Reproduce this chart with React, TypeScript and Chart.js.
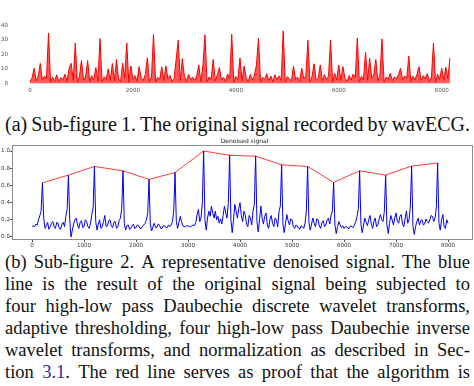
import React, { useEffect, useRef } from 'react';
import { Chart, registerables } from 'chart.js';

Chart.register(...registerables);

// ---------- Sub-figure 1: original signal ----------
const rawStep = 40;
const rawXTicks = [0, 2000, 4000, 6000, 8000];
const rawXTickLabels = ['0', '2000', '4000', '6000', '8000'];
const rawYTicks = [0, 10, 20, 30, 40];
const rawYTickLabels = ['0', '10', '20', '30', '40'];
const rawSignal = [
  1.2, 3.6, 10.3, 1.5, 5.0, 13.7, 2.2, 4.8, 3.0, 34.7,
  0.7, 4.1, 1.6, 5.8, 1.1, 3.9, 2.4, 6.2, 1.3, 10.3,
  13.7, 1.8, 27.8, 0.8, 4.6, 15.7, 2.0, 4.3, 15.7, 1.2,
  5.1, 2.3, 10.8, 1.4, 30.9, 0.9, 4.5, 2.6, 9.9, 1.7,
  13.7, 1.5, 16.4, 3.2, 1.0, 13.8, 3.8, 27.8, 0.8, 11.9,
  2.7, 5.2, 1.3, 11.4, 3.5, 1.9, 5.9, 17.5, 1.1, 4.4,
  33.9, 0.8, 4.0, 2.4, 11.4, 1.6, 11.9, 3.0, 5.3, 1.3,
  3.3, 16.4, 29.7, 1.7, 17.0, 4.7, 1.4, 6.1, 2.5, 4.2,
  2.0, 5.3, 12.6, 1.1, 11.9, 33.5, 0.9, 4.3, 2.8, 16.4,
  1.6, 5.7, 10.8, 2.2, 3.9, 1.2, 6.4, 3.0, 33.9, 0.7,
  4.6, 2.6, 17.5, 1.5, 11.9, 3.6, 1.0, 6.0, 2.3, 5.5,
  12.6, 30.9, 0.9, 4.0, 2.7, 6.6, 1.6, 4.9, 1.1, 5.8,
  2.4, 5.0, 1.8, 36.2, 0.8, 4.5, 3.1, 1.5, 11.9, 2.6,
  4.2, 1.3, 10.3, 2.9, 5.1, 29.7, 1.0, 4.3, 13.4, 2.1,
  3.4, 12.6, 1.6, 5.9, 2.6, 4.8, 29.7, 0.8, 6.8, 2.4,
  12.6, 1.8, 11.4, 3.4, 1.3, 5.3, 2.2, 6.4, 3.8, 31.3,
  0.9, 4.7, 2.5, 21.4, 1.9, 17.2, 3.5, 5.6, 16.4, 1.5,
  5.4, 30.6, 1.0, 4.2, 2.6, 6.7, 1.8, 4.4, 2.9, 6.0,
  10.3, 2.1, 5.0, 3.2, 18.7, 1.2, 4.8, 2.3, 6.2, 11.4,
  1.8, 5.2, 3.0, 6.6, 1.4, 4.3, 27.8, 0.9, 6.1, 2.7,
  10.3, 2.0, 11.0, 3.3, 17.5,
];

// ---------- Sub-figure 2: denoised signal ----------
const denoisedTitle = 'Denoised signal';
const denoisedStep = 25;
const denoisedXTicks = [0, 1000, 2000, 3000, 4000, 5000, 6000, 7000, 8000];
const denoisedYTicks = [0, 0.2, 0.4, 0.6, 0.8, 1.0];
const denoisedSignal = [
  // 0 - 975
  0.12, 0.13, 0.12, 0.15, 0.14, 0.20, 0.25, 0.30, 0.63, 0.22,
  0.10, 0.13, 0.17, 0.09, 0.12, 0.16, 0.18, 0.12, 0.10, 0.17,
  0.16, 0.10, 0.09, 0.15, 0.17, 0.12, 0.24, 0.32, 0.72, 0.20,
  0.00, 0.08, 0.15, 0.20, 0.22, 0.14, 0.10, 0.17, 0.19, 0.11,
  // 1000 - 1975
  0.12, 0.20, 0.18, 0.12, 0.10, 0.16, 0.26, 0.34, 0.82, 0.18,
  0.08, 0.15, 0.20, 0.10, 0.12, 0.18, 0.25, 0.12, 0.13, 0.19,
  0.20, 0.13, 0.11, 0.17, 0.18, 0.10, 0.12, 0.19, 0.22, 0.33,
  0.77, 0.16, 0.08, 0.13, 0.14, 0.09, 0.10, 0.13, 0.15, 0.10,
  // 2000 - 2975
  0.11, 0.14, 0.13, 0.10, 0.10, 0.13, 0.14, 0.16, 0.20, 0.28,
  0.67, 0.15, 0.07, 0.12, 0.16, 0.11, 0.11, 0.15, 0.14, 0.10,
  0.10, 0.13, 0.13, 0.11, 0.11, 0.14, 0.12, 0.14, 0.18, 0.30,
  0.75, 0.18, 0.10, 0.17, 0.24, 0.18, 0.13, 0.12, 0.12, 0.13,
  // 3000 - 3975
  0.13, 0.12, 0.12, 0.13, 0.14, 0.13, 0.17, 0.26, 0.32, 0.18,
  0.22, 0.40, 1.00, 0.20, 0.08, 0.22, 0.30, 0.24, 0.36, 0.28,
  0.22, 0.30, 0.20, 0.24, 0.16, 0.21, 0.15, 0.25, 0.36, 0.28,
  0.22, 0.40, 0.95, 0.20, 0.05, 0.20, 0.38, 0.30, 0.22, 0.33,
  // 4000 - 4975
  0.40, 0.25, 0.18, 0.30, 0.26, 0.15, 0.12, 0.25, 0.22, 0.14,
  0.30, 0.38, 0.94, 0.18, 0.06, 0.20, 0.36, 0.22, 0.15, 0.24,
  0.28, 0.14, 0.10, 0.20, 0.25, 0.16, 0.12, 0.22, 0.20, 0.12,
  0.30, 0.36, 0.84, 0.15, 0.05, 0.16, 0.26, 0.19, 0.14, 0.21,
  // 5000 - 5975
  0.20, 0.12, 0.10, 0.14, 0.13, 0.10, 0.09, 0.13, 0.12, 0.10,
  0.16, 0.30, 0.82, 0.17, 0.08, 0.15, 0.22, 0.16, 0.12, 0.21,
  0.20, 0.13, 0.10, 0.17, 0.19, 0.12, 0.14, 0.20, 0.22, 0.15,
  0.25, 0.30, 0.635, 0.14, 0.04, 0.12, 0.18, 0.14, 0.11, 0.13,
  // 6000 - 6975
  0.10, 0.12, 0.12, 0.10, 0.10, 0.13, 0.12, 0.11, 0.14, 0.18,
  0.24, 0.32, 0.77, 0.15, 0.05, 0.14, 0.22, 0.17, 0.13, 0.20,
  0.25, 0.15, 0.10, 0.18, 0.22, 0.12, 0.14, 0.21, 0.26, 0.20,
  0.18, 0.30, 0.72, 0.14, 0.04, 0.16, 0.25, 0.20, 0.14, 0.22,
  // 7000 - 8000
  0.28, 0.18, 0.16, 0.24, 0.26, 0.15, 0.12, 0.22, 0.30, 0.16,
  0.20, 0.36, 0.825, 0.13, 0.03, 0.12, 0.18, 0.22, 0.14, 0.19,
  0.20, 0.14, 0.15, 0.21, 0.18, 0.16, 0.20, 0.25, 0.24, 0.18,
  0.22, 0.34, 0.86, 0.16, 0.08, 0.20, 0.26, 0.12, 0.10, 0.20,
  0.16,
];
// R-peak sample positions joined by the red envelope line
const peakSamples = [200, 700, 1200, 1750, 2250, 2750, 3300, 3800, 4300, 4800, 5300, 5800, 6300, 6800, 7300, 7800];

// ---------- Captions ----------
const captionA = '(a) Sub-figure 1. The original signal recorded by wavECG.';
const captionBLines = [
  '(b) Sub-figure 2. A representative denoised signal. The blue',
  'line is the result of the original signal being subjected to',
  'four high-low pass Daubechie discrete wavelet transforms,',
  'adaptive thresholding, four high-low pass Daubechie inverse',
  'wavelet transforms, and normalization as described in Sec-',
  'tion 3.1. The red line serves as proof that the algorithm is',
];
const sectionRef = '3.1';

const tickFont = { family: '"DejaVu Sans", sans-serif', size: 5.6 };

function RawChart() {
  const ref = useRef<HTMLCanvasElement>(null);
  useEffect(() => {
    const chart = new Chart(ref.current!, {
      type: 'line',
      data: {
        datasets: [
          {
            data: rawSignal.map((v, i) => ({ x: i * rawStep, y: v })),
            borderColor: '#ff0000',
            backgroundColor: 'rgba(255,0,0,0.65)',
            borderWidth: 1,
            pointRadius: 0,
            fill: 'origin',
            tension: 0,
          },
        ],
      },
      options: {
        animation: false,
        responsive: false,
        maintainAspectRatio: false,
        layout: { padding: { top: 7, left: 0, right: 22, bottom: 0 } },
        plugins: { legend: { display: false }, tooltip: { enabled: false }, title: { display: false } },
        scales: {
          x: {
            type: 'linear',
            min: 0,
            max: 8200,
            afterBuildTicks: (s: any) => {
              s.ticks = rawXTicks.map((v) => ({ value: v }));
            },
            afterFit: (s: any) => {
              s.height = 14;
            },
            ticks: {
              callback: (_v: any, i: number) => rawXTickLabels[i],
              font: tickFont,
              color: '#555',
              padding: 3,
              maxRotation: 0,
              autoSkip: false,
            },
            grid: { display: false, drawTicks: false },
            border: { display: false },
          },
          y: {
            type: 'linear',
            min: -1,
            max: 40,
            afterBuildTicks: (s: any) => {
              s.ticks = rawYTicks.map((v) => ({ value: v }));
            },
            afterFit: (s: any) => {
              s.width = 30;
            },
            ticks: {
              callback: (_v: any, i: number) => rawYTickLabels[i],
              font: tickFont,
              color: '#555',
              padding: 22,
              autoSkip: false,
            },
            grid: { display: false, drawTicks: false },
            border: { display: false },
          },
        },
      },
    });
    return () => chart.destroy();
  }, []);
  return <canvas ref={ref} width={474} height={110} style={{ position: 'absolute', left: 0, top: 0, display: 'block' }} />;
}

const framePlugin = {
  id: 'frameAndTitle',
  afterDraw(chart: any) {
    const { ctx, chartArea: a } = chart;
    ctx.save();
    ctx.strokeStyle = '#8c8c8c';
    ctx.lineWidth = 1;
    ctx.strokeRect(Math.round(a.left) + 0.5, Math.round(a.top) + 0.5, Math.round(a.right - a.left) - 1, Math.round(a.bottom - a.top) - 1);
    ctx.fillStyle = '#222';
    ctx.font = '6px "DejaVu Sans", sans-serif';
    ctx.textAlign = 'center';
    ctx.textBaseline = 'middle';
    ctx.fillText(denoisedTitle, (a.left + a.right) / 2 + 2, a.top - 3.5);
    ctx.restore();
  },
};

function DenoisedChart() {
  const ref = useRef<HTMLCanvasElement>(null);
  useEffect(() => {
    const chart = new Chart(ref.current!, {
      type: 'line',
      data: {
        datasets: [
          {
            data: denoisedSignal.map((v, i) => ({ x: i * denoisedStep, y: v })),
            borderColor: '#0000ee',
            borderWidth: 1,
            pointRadius: 0,
            fill: false,
            tension: 0,
          },
          {
            data: peakSamples.map((s) => ({ x: s, y: denoisedSignal[Math.round(s / denoisedStep)] })),
            borderColor: 'rgba(255,40,40,0.9)',
            borderWidth: 1,
            pointRadius: 0,
            fill: false,
            tension: 0,
          },
        ],
      },
      options: {
        animation: false,
        responsive: false,
        maintainAspectRatio: false,
        layout: { padding: { top: 9, left: 0, right: 1, bottom: 0 } },
        plugins: { legend: { display: false }, tooltip: { enabled: false }, title: { display: false } },
        scales: {
          x: {
            type: 'linear',
            min: -385,
            max: 8480,
            afterBuildTicks: (s: any) => {
              s.ticks = denoisedXTicks.map((v) => ({ value: v }));
            },
            afterFit: (s: any) => {
              s.height = 10;
            },
            ticks: {
              callback: (v: any) => String(v),
              font: tickFont,
              color: '#333',
              padding: 0,
              maxRotation: 0,
              autoSkip: false,
            },
            grid: { display: true, drawOnChartArea: false, drawTicks: true, tickLength: 2, color: '#555' },
            border: { display: false },
          },
          y: {
            type: 'linear',
            min: -0.035,
            max: 1.07,
            afterBuildTicks: (s: any) => {
              s.ticks = denoisedYTicks.map((v) => ({ value: v }));
            },
            afterFit: (s: any) => {
              s.width = 12;
            },
            ticks: {
              callback: (v: any) => Number(v).toFixed(1),
              font: tickFont,
              color: '#333',
              padding: 0,
              autoSkip: false,
            },
            grid: { display: true, drawOnChartArea: false, drawTicks: true, tickLength: 2, color: '#555' },
            border: { display: false },
          },
        },
      },
      plugins: [framePlugin],
    });
    return () => chart.destroy();
  }, []);
  return <canvas ref={ref} width={474} height={114} style={{ position: 'absolute', left: 0, top: 136, display: 'block' }} />;
}

const serif = '"Liberation Serif", "Times New Roman", serif';

function JustifiedLine({ text, top, size }: { text: string; top: number; size: number }) {
  const words = text.split(' ');
  return (
    <div
      style={{
        position: 'absolute',
        left: 5,
        top,
        width: 465,
        height: 22,
        display: 'flex',
        justifyContent: 'space-between',
        fontFamily: serif,
        fontSize: size,
        lineHeight: '22px',
        color: '#111',
        whiteSpace: 'nowrap',
      }}
    >
      {words.map((w, i) => {
        if (w.startsWith(sectionRef)) {
          return (
            <span key={i}>
              <span style={{ color: '#2b2ba6' }}>{sectionRef}</span>
              {w.slice(sectionRef.length)}
            </span>
          );
        }
        return <span key={i}>{w}</span>;
      })}
    </div>
  );
}

export default function App() {
  return (
    <div
      style={{
        position: 'absolute',
        left: 0,
        top: 0,
        width: 474,
        height: 386,
        overflow: 'hidden',
        background: '#ffffff',
      }}
    >
      <RawChart />
      <JustifiedLine text={captionA} top={113} size={20} />
      <DenoisedChart />
      {captionBLines.map((line, i) => (
        <JustifiedLine key={i} text={line} top={251 + i * 21.9} size={18.5} />
      ))}
    </div>
  );
}
